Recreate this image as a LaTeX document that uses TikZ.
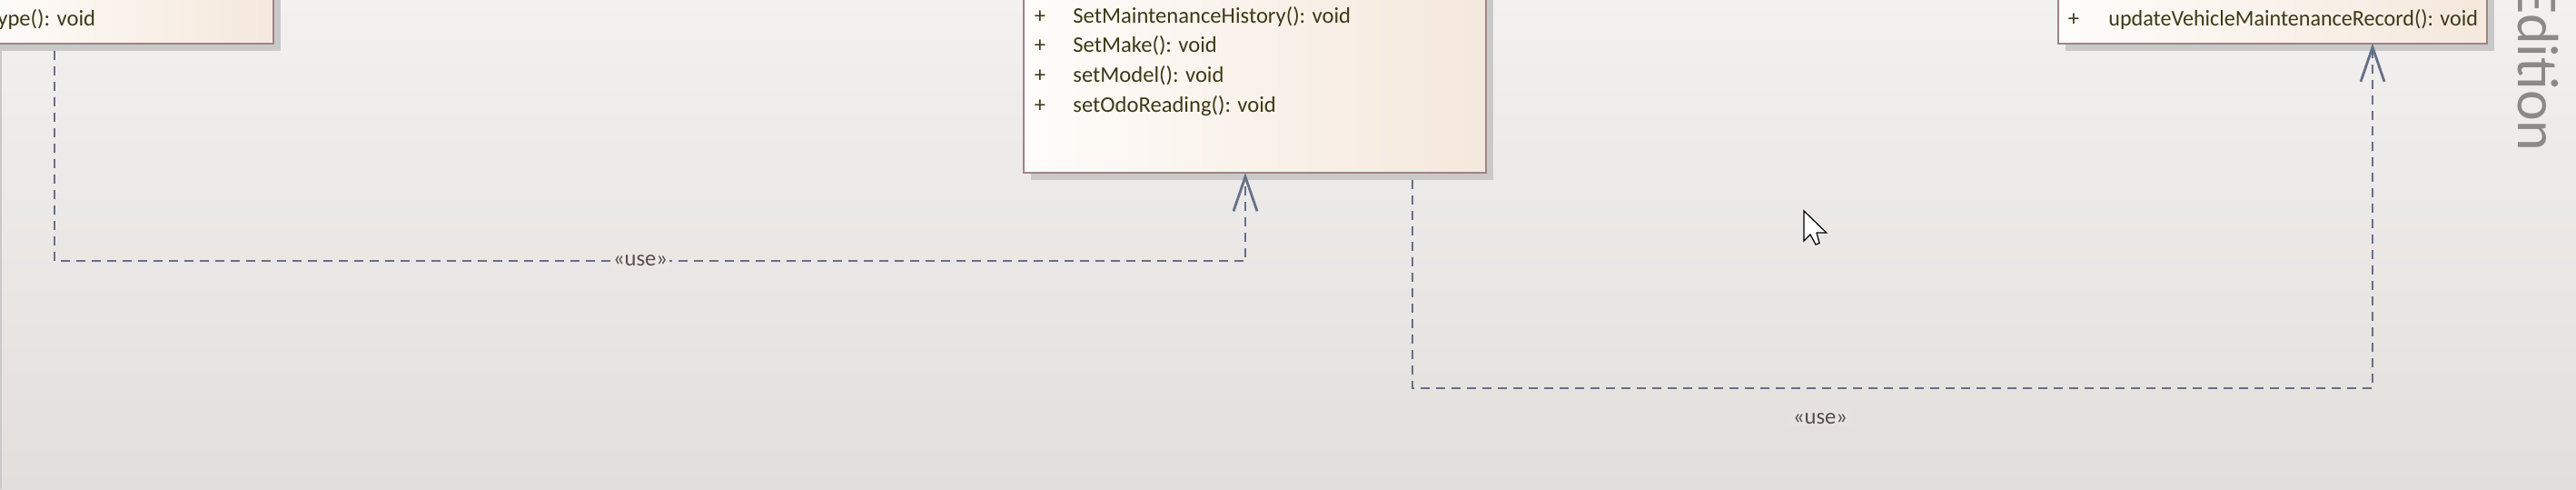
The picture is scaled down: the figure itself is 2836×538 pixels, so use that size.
\documentclass[tikz,border=0pt]{standalone}
\usepackage{fontspec}
\setmainfont{Carlito}
\usetikzlibrary{arrows.meta,shadows}
\definecolor{bgtop}{HTML}{F2F1F0}
\definecolor{bgbot}{HTML}{E2DEDB}
\definecolor{boxl}{HTML}{FEFCFA}
\definecolor{boxr}{HTML}{F5E8DC}
\definecolor{boxline}{HTML}{A08484}
\definecolor{shadowgray}{HTML}{C9C9C9}
\definecolor{optext}{HTML}{3C3A17}
\definecolor{depline}{HTML}{667089}
\definecolor{stereo}{HTML}{564E4C}
\definecolor{wmark}{HTML}{8A8A8A}
\tikzset{
 classbox/.style={draw=boxline,line width=1pt,left color=boxl,right color=boxr,
  anchor=south west,inner sep=0pt,outer sep=0pt,
  general shadow={fill=shadowgray,shadow xshift=4pt,shadow yshift=-4pt}},
 optext/.style={text=optext,font=\fontsize{12.3}{15}\selectfont,inner sep=0pt},
 usedep/.style={draw=depline,line width=1.4pt,dash pattern=on 5pt off 3.5pt,
  -{Straight Barb[length=19pt,width=13pt,line width=1.4pt]}},
 stereolabel/.style={text=stereo,font=\fontsize{12.3}{15}\selectfont,inner sep=1pt}
}
\begin{document}
\begin{tikzpicture}[x=0.5pt,y=-0.5pt]
 \useasboundingbox (0,0) rectangle (2836,538);
 \clip (0,0) rectangle (2836,538);
 \shade [top color=bgtop,bottom color=bgbot] (0,0) rectangle (2836,538);
 \draw [shadowgray,line width=1pt] (1,55) -- (1,538);
 % classes
 \node [classbox,minimum width=160.5pt,minimum height=33.75pt] (leftcls) at (-20,47.5) {};
 \node [classbox,minimum width=254.5pt,minimum height=105pt] (midcls) at (1127,190) {};
 \node [classbox,minimum width=236pt,minimum height=33.75pt] (rightcls) at (2266,47.5) {};
 \node [optext,anchor=base west] (leftop) at (-3,28) {ype(): void};
 \foreach \op [count=\i] in {SetMaintenanceHistory(): void,SetMake(): void,setModel(): void,setOdoReading(): void} {
  \node [optext,anchor=base] (midvis\i) at (1145,{25+32.7*(\i-1)}) {+};
  \node [optext,anchor=base west] (midop\i) at (1181,{25+32.7*(\i-1)}) {\op};
 }
 \node [optext,anchor=base] (rightvis) at (2283,28) {+};
 \node [optext,anchor=base west,xscale=0.98] (rightop) at (2321,28) {updateVehicleMaintenanceRecord(): void};
 % dependencies
 \coordinate (u1a) at ([xshift=40pt,yshift=-4pt]leftcls.south west);
 \coordinate (u1m) at (705,287);
 \coordinate (u1b) at ([xshift=122pt]midcls.south west);
 \draw [usedep] (u1a) |- (u1m) -| (u1b);
 \node [stereolabel,fill=bgtop!47!bgbot] (use1) at (u1m) {«use»};
 \coordinate (u2a) at ([xshift=214pt,yshift=-4pt]midcls.south west);
 \coordinate (u2m) at (2004,427);
 \coordinate (u2b) at ([xshift=173pt]rightcls.south west);
 \draw [usedep] (u2a) |- (u2m) -| (u2b);
 \node [stereolabel,fill=bgtop!25!bgbot] (use2) at (2004,461) {«use»};
 % watermark and pointer
 \node [rotate=-90,anchor=base east,inner sep=0pt,text=wmark,font=\fontsize{32}{36}\selectfont] (edition) at (2772,167) {Edition};
 \filldraw [fill=white,draw=black,line width=0.6pt] (1986,232) -- ++(0,33) -- ++(7,-7)
  -- ++(6,11) -- ++(4,-1.6) -- ++(-3,-11.4) -- ++(10.7,0) -- cycle;
\end{tikzpicture}
\end{document}
